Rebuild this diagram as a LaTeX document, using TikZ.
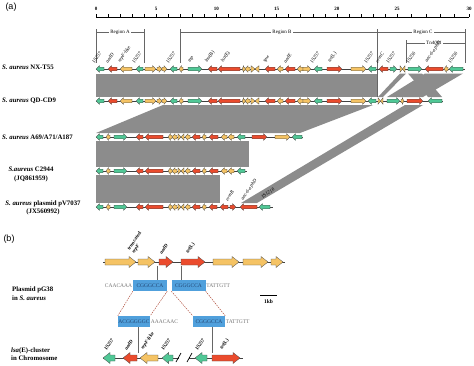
\documentclass[tikz,border=0pt]{standalone}
\usepackage{fontspec}
\setmainfont{Liberation Serif}
\newfontfamily\sansf{Liberation Sans}
\definecolor{cg}{RGB}{80,200,150}
\definecolor{cr}{RGB}{235,75,45}
\definecolor{cy}{RGB}{245,195,100}
\definecolor{cgray}{RGB}{140,140,140}
\definecolor{cblue}{RGB}{80,160,220}
\definecolor{cboxtxt}{RGB}{35,70,115}
\tikzset{
  gene/.style={draw=black!70, line width=0.3pt, line join=miter},
  tline/.style={draw=black!75, line width=0.5pt},
  band/.style={fill=cgray, draw=none},
  glab/.style={rotate=55, anchor=south west, inner sep=0.3pt, font=\fontsize{5}{5}\selectfont},
  tlab/.style={inner sep=0pt, font=\fontsize{6.8}{8.5}\selectfont\bfseries},
  brk/.style={draw=black!60, line width=0.4pt},
  brktxt/.style={fill=white, inner sep=1pt, font=\fontsize{5}{5}\selectfont},
  seqbox/.style={fill=cblue, draw=none, minimum width=34pt, minimum height=11pt, inner sep=0pt, font=\fontsize{5.5}{6}\selectfont, text=cboxtxt},
  seqtxt/.style={inner sep=0.5pt, font=\fontsize{5.5}{6}\selectfont, text=black!55},
  link/.style={draw=cr!70!black, dashed, dash pattern=on 1.5pt off 1pt, line width=0.4pt},
  vline/.style={draw=black!60, line width=0.4pt}
}
% small genes (part a)
\newcommand{\gR}[4]{\pgfmathsetmacro{\hl}{min(3.5,0.6*(#2-#1))}%
\draw[gene,fill=#4] (#1,#3-1.8) -- ({#2-\hl},#3-1.8) -- ({#2-\hl},#3-3.3) -- (#2,#3) -- ({#2-\hl},#3+3.3) -- ({#2-\hl},#3+1.8) -- (#1,#3+1.8) -- cycle;}
\newcommand{\gL}[4]{\pgfmathsetmacro{\hl}{min(3.5,0.6*(#2-#1))}%
\draw[gene,fill=#4] (#2,#3-1.8) -- ({#1+\hl},#3-1.8) -- ({#1+\hl},#3-3.3) -- (#1,#3) -- ({#1+\hl},#3+3.3) -- ({#1+\hl},#3+1.8) -- (#2,#3+1.8) -- cycle;}
\newcommand{\gB}[4]{\pgfmathsetmacro{\mm}{(#1+#2)/2}%
\draw[gene,fill=#4] (#1,#3-3.3) -- (\mm,#3) -- (#1,#3+3.3) -- cycle;
\draw[gene,fill=#4] (#2,#3-3.3) -- (\mm,#3) -- (#2,#3+3.3) -- cycle;}
% large genes (part b)
\newcommand{\GR}[4]{\pgfmathsetmacro{\hl}{min(7,0.6*(#2-#1))}%
\draw[gene,fill=#4] (#1,#3-3) -- ({#2-\hl},#3-3) -- ({#2-\hl},#3-5.5) -- (#2,#3) -- ({#2-\hl},#3+5.5) -- ({#2-\hl},#3+3) -- (#1,#3+3) -- cycle;}
\newcommand{\GL}[4]{\pgfmathsetmacro{\hl}{min(7,0.6*(#2-#1))}%
\draw[gene,fill=#4] (#2,#3-3) -- ({#1+\hl},#3-3) -- ({#1+\hl},#3-5.5) -- (#1,#3) -- ({#1+\hl},#3+5.5) -- ({#1+\hl},#3+3) -- (#2,#3+3) -- cycle;}
\newcommand{\lab}[3]{\node[glab] at (#1,#2) {#3};}
% shared gene runs
\newcommand{\trackOne}[1]{%
\gL{96}{104}{#1}{cg}\gL{108}{117}{#1}{cr}\gL{120}{132}{#1}{cy}\gL{136}{143}{#1}{cg}%
\gR{145}{156}{#1}{cy}\gR{157}{162}{#1}{cy}\gR{162}{167}{#1}{cy}\gL{170}{177}{#1}{cg}%
\gL{179}{183}{#1}{cy}\gR{188}{202}{#1}{cg}\gL{208}{217}{#1}{cr}\gL{218}{240}{#1}{cr}%
\gL{242}{245}{#1}{cy}\gL{245}{250}{#1}{cy}\gB{251}{259}{#1}{cy}\gL{265}{275}{#1}{cr}%
\gL{277}{283}{#1}{cy}\gL{285}{295}{#1}{cr}\gL{297}{303}{#1}{cy}\gR{303}{311}{#1}{cy}%
\gL{314}{322}{#1}{cg}\gR{327}{342}{#1}{cr}\gR{351}{366}{#1}{cy}\gL{368}{376}{#1}{cg}}
\newcommand{\trackThree}[1]{%
\gL{96}{103}{#1}{cg}\gL{106}{110}{#1}{cy}\gR{114}{127}{#1}{cg}\gL{136}{143}{#1}{cr}%
\gL{145}{163}{#1}{cr}\gL{168}{172}{#1}{cy}\gL{172}{177}{#1}{cy}\gB{178}{184}{#1}{cy}%
\gL{185}{190}{#1}{cy}\gL{192}{200}{#1}{cr}\gL{202}{206}{#1}{cy}}
\begin{document}
\begin{tikzpicture}[x=1pt,y=-1pt]
\useasboundingbox (0,0) rectangle (474,365);
% panel letters
\node[font=\sansf\fontsize{9}{9}\selectfont, inner sep=0pt] (pa) at (11,7) {(a)};
\node[font=\sansf\fontsize{9}{9}\selectfont, inner sep=0pt] (pb) at (9,239) {(b)};
% ruler
\draw[line width=0.5pt] (96,17) -- (469,17);
\foreach \k in {0,...,30}{
  \pgfmathsetmacro{\xx}{\k<=25 ? 96+12.04*\k : 397+14.4*(\k-25)}
  \draw[line width=0.4pt] (\xx,17) -- (\xx,14);
}
\foreach \k/\xx in {0/96,5/156.2,10/216.4,15/276.6,20/336.8,25/397,30/469}{
  \node[font=\fontsize{5}{5}\selectfont\bfseries, inner sep=0pt] at (\xx,9) {\k};
}
% region brackets
\draw[brk] (96,32) -- (144,32);
\draw[brk] (180,32) -- (377,32);
\draw[brk] (377,32) -- (465,32);
\draw[brk] (406,43) -- (465,43);
\draw[brk] (96,29) -- (96,63);
\draw[brk] (144,29) -- (144,63);
\draw[brk] (180,29) -- (180,63);
\draw[brk] (377,29) -- (377,97);
\draw[brk] (465,29) -- (465,63);
\draw[brk] (406,40) -- (406,63);
\node[brktxt] (ra) at (120,32) {Region A};
\node[brktxt] (rb) at (282,32) {Region B};
\node[brktxt] (rc) at (423,32) {Region C};
\node[brktxt] (tn) at (434,43) {Tn\textit{4001}};
% gray homology blocks
\fill[band] (96,73.5) rectangle (377,97);
\fill[band] (400,73.5) -- (406,73.5) -- (383,97) -- (378,97) -- cycle;
\fill[band] (408,73.5) -- (422,73.5) -- (442,97) -- (428,97) -- cycle;
\fill[band] (425,73.5) -- (463,73.5) -- (423,97) -- (387,97) -- cycle;
\fill[band] (163,105) -- (373,105) -- (300,133) -- (96,133) -- cycle;
\fill[band] (405,105) -- (423,105) -- (257,203) -- (241,203) -- cycle;
\fill[band] (96,141) rectangle (249,167);
\fill[band] (96,175) rectangle (220,203);
% track labels
\node[tlab, anchor=west] (l1) at (2,67) {\textit{S. aureus} NX-T55};
\node[tlab, anchor=west] (l2) at (2,101) {\textit{S. aureus} QD-CD9};
\node[tlab, anchor=west] (l3) at (2,137) {\textit{S. aureus} A69/A71/A187};
\node[tlab, align=center] (l4) at (31,174.5) {\textit{S.aureus} C2944\\(JQ861959)};
\node[tlab, align=center] (l5) at (43,208) {\textit{S. aureus} plasmid pV7037\\(JX560992)};
% track 1
\draw[tline] (96,69) -- (465,69);
\trackOne{69}
\gL{379}{388}{69}{cr}\gR{390}{397}{69}{cg}\gB{400}{405}{69}{cy}\gR{408}{422}{69}{cg}
\gL{425}{443}{69}{cr}\gL{444}{448}{69}{cy}\gL{449}{463}{69}{cg}
\lab{95}{64}{IS\textit{257}}
\lab{108}{64}{\textit{aadD}}
\lab{121}{64}{\textit{repF}-like}
\lab{135}{64}{IS\textit{257}}
\lab{169}{64}{IS\textit{257}}
\lab{191}{64}{\textit{tnp}}
\lab{208}{64}{\textit{lnu}(B)}
\lab{224}{64}{\textit{lsa}(E)}
\lab{266}{64}{\textit{spw}}
\lab{286}{64}{\textit{aadE}}
\lab{313}{64}{IS\textit{257}}
\lab{331}{64}{\textit{tet}(L)}
\lab{367}{64}{IS\textit{257}}
\lab{378}{64}{\textit{ermC}}
\lab{389}{64}{IS\textit{257}}
\lab{409}{64}{IS\textit{256}}
\lab{428}{64}{\textit{aac-6-aphD}}
\lab{451}{64}{IS\textit{256}}
% track 2
\draw[tline] (96,101) -- (443,101);
\trackOne{101}
\gB{378}{383}{101}{cy}\gR{387}{400}{101}{cg}\gR{401}{404}{101}{cy}\gR{407}{423}{101}{cr}\gL{428}{442}{101}{cg}
% track 3
\draw[tline] (96,137) -- (303,137);
\trackThree{137}
\gL{209}{218}{137}{cr}\gL{221}{227}{137}{cy}\gL{228}{234}{137}{cy}\gL{237}{245}{137}{cg}
\gR{252}{267}{137}{cr}\gR{275}{290}{137}{cy}\gL{292}{302}{137}{cg}
% track 4
\draw[tline] (96,171) -- (247,171);
\trackThree{171}
\gL{209}{218}{171}{cr}\gL{221}{227}{171}{cy}\gL{228}{234}{171}{cy}\gL{237}{245}{171}{cg}
% track 5
\draw[tline] (96,207) -- (273,207);
\trackThree{207}
\gL{209}{217}{207}{cr}\gL{220}{228}{207}{cr}\gR{230}{236}{207}{cr}\gL{240}{257}{207}{cr}\gL{259}{270}{207}{cg}
\lab{228}{202}{\textit{ermB}}
\lab{244}{202}{\textit{aac-6-aphD}}
\node[rotate=35, inner sep=0pt, font=\fontsize{5}{5}\selectfont] (is1216) at (268,193) {IS\textit{1216}};
% ---------- part (b) ----------
\node[tlab, anchor=west, align=left] (pg) at (12,293.5) {Plasmid pG38\\in \textit{S. aureus}};
\node[tlab, anchor=west, align=left] (lc) at (11,354) {\textit{lsa}(E)-cluster\\in Chromosome};
% plasmid pG38
\draw[tline] (103,262) -- (285,262);
\GR{105}{136}{262}{cy}\GR{138}{155}{262}{cy}\GR{159}{173}{262}{cr}\GR{181}{205}{262}{cr}
\GR{213}{239}{262}{cy}\GR{243}{268}{262}{cy}\GR{271}{283}{262}{cy}
\node[glab, align=left, font=\fontsize{5}{5.5}\selectfont\bfseries] at (135,255) {truncated\\\textit{repF}};
\node[glab, font=\fontsize{5}{5}\selectfont\bfseries] at (162,255) {\textit{aadD}};
\node[glab, font=\fontsize{5}{5}\selectfont\bfseries] at (189,255) {\textit{tet}(L)};
% upper sequence
\node[seqbox] (u1) at (150,285.5) {CGGGCCA};
\node[seqbox] (u2) at (188.5,285.5) {CGGGCCA};
\node[seqtxt, anchor=east] (u0) at (u1.west) {CAACAAA};
\node[seqtxt, anchor=west] (u3) at (u2.east) {TATTGTT};
\coordinate (pv1) at (157,266);
\coordinate (pv2) at (181,266);
\draw[vline] (pv1) -- (157,280);
\draw[vline] (pv2) -- (181,280);
% lower sequence
\node[seqbox, minimum width=32pt] (d1) at (134,321.5) {ACGGGGGC};
\node[seqbox, minimum width=32pt] (d2) at (209,321.5) {CGGGCCA};
\node[seqtxt, anchor=west] (d15) at (d1.east) {AAACAAC};
\node[seqtxt, anchor=west] (d3) at (d2.east) {TATTGTT};
\draw[link] (u1.south west) -- (d1.north west);
\draw[link] (u1.south east) -- (d1.north east);
\draw[link] (u2.south west) -- (d2.north west);
\draw[link] (u2.south east) -- (d2.north east);
% chromosome
\draw[tline] (103,358) -- (179,358);
\draw[tline] (189,358) -- (243,358);
\draw[line width=0.7pt] (176,362) -- (181,353);
\draw[line width=0.7pt] (187,362) -- (192,353);
\draw[vline] (138,327) -- (138,353);
\draw[vline] (212,327) -- (212,353);
\GL{103}{115}{358}{cg}\GL{123}{137}{358}{cr}\GL{140}{158}{358}{cy}\GL{162}{173}{358}{cg}
\GL{195}{207}{358}{cg}\GR{212}{240}{358}{cr}
\node[glab, font=\fontsize{5}{5}\selectfont\bfseries] at (107,351) {IS\textit{257}};
\node[glab, font=\fontsize{5}{5}\selectfont\bfseries] at (127,351) {\textit{aadD}};
\node[glab, font=\fontsize{5}{5}\selectfont\bfseries] at (144,351) {\textit{repF}-like};
\node[glab, font=\fontsize{5}{5}\selectfont\bfseries] at (164,351) {IS\textit{257}};
\node[glab, font=\fontsize{5}{5}\selectfont\bfseries] at (198,351) {IS\textit{257}};
\node[glab, font=\fontsize{5}{5}\selectfont\bfseries] at (223,351) {\textit{tet}(L)};
% scale bar
\draw[line width=0.6pt] (260,295.5) -- (277,295.5);
\node[font=\fontsize{5.5}{6}\selectfont\bfseries, inner sep=0pt] (kb) at (268.5,302) {1kb};
\end{tikzpicture}
\end{document}
